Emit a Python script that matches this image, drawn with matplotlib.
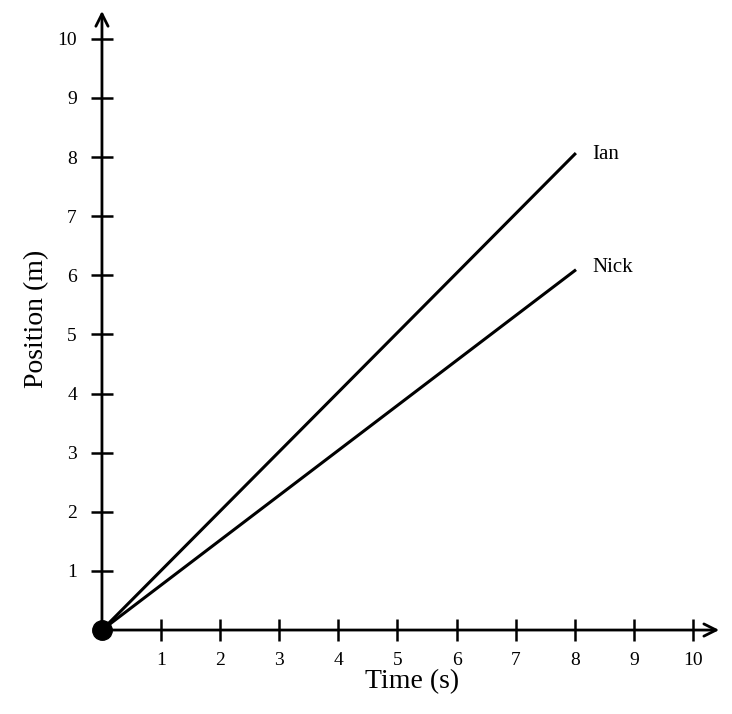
import numpy as np
import matplotlib.pyplot as plt

# data
time_s = [0, 8]
ian_pos = [0, 8.05]
nick_pos = [0, 6.08]
ticks = list(range(1, 11))

plt.rcParams['font.family'] = ['Liberation Serif', 'DejaVu Serif']

fig = plt.figure(figsize=(7.32, 7.14), dpi=100)
ax = fig.add_axes([0.1393, 0.1176, 0.847, 0.871])
ax.set_xlim(0, 10.49)
ax.set_ylim(0, 10.52)
for s in ax.spines.values():
    s.set_visible(False)

# axes with arrows
ax.annotate("", xy=(10.49, 0), xytext=(0, 0),
            arrowprops=dict(arrowstyle="->", lw=2, color="black", mutation_scale=22))
ax.annotate("", xy=(0, 10.52), xytext=(0, 0),
            arrowprops=dict(arrowstyle="->", lw=2, color="black", mutation_scale=22))

ax.set_xticks(ticks)
ax.set_yticks(ticks)
ax.tick_params(direction="inout", length=16, width=1.8, labelsize=14)
ax.tick_params(axis="x", pad=8)
ax.tick_params(axis="y", pad=10)

ax.plot(time_s, ian_pos, color="black", lw=2.2)
ax.plot(time_s, nick_pos, color="black", lw=2.2)
ax.plot(0, 0, "o", color="black", ms=14, clip_on=False, zorder=5)

ax.text(8.3, ian_pos[1], "Ian", fontsize=15, va="center")
ax.text(8.3, nick_pos[1] + 0.05, "Nick", fontsize=15, va="center")

ax.set_xlabel("Time (s)", fontsize=20, labelpad=0)
ax.set_ylabel("Position (m)", fontsize=20, labelpad=6)

fig.savefig("out.png")
